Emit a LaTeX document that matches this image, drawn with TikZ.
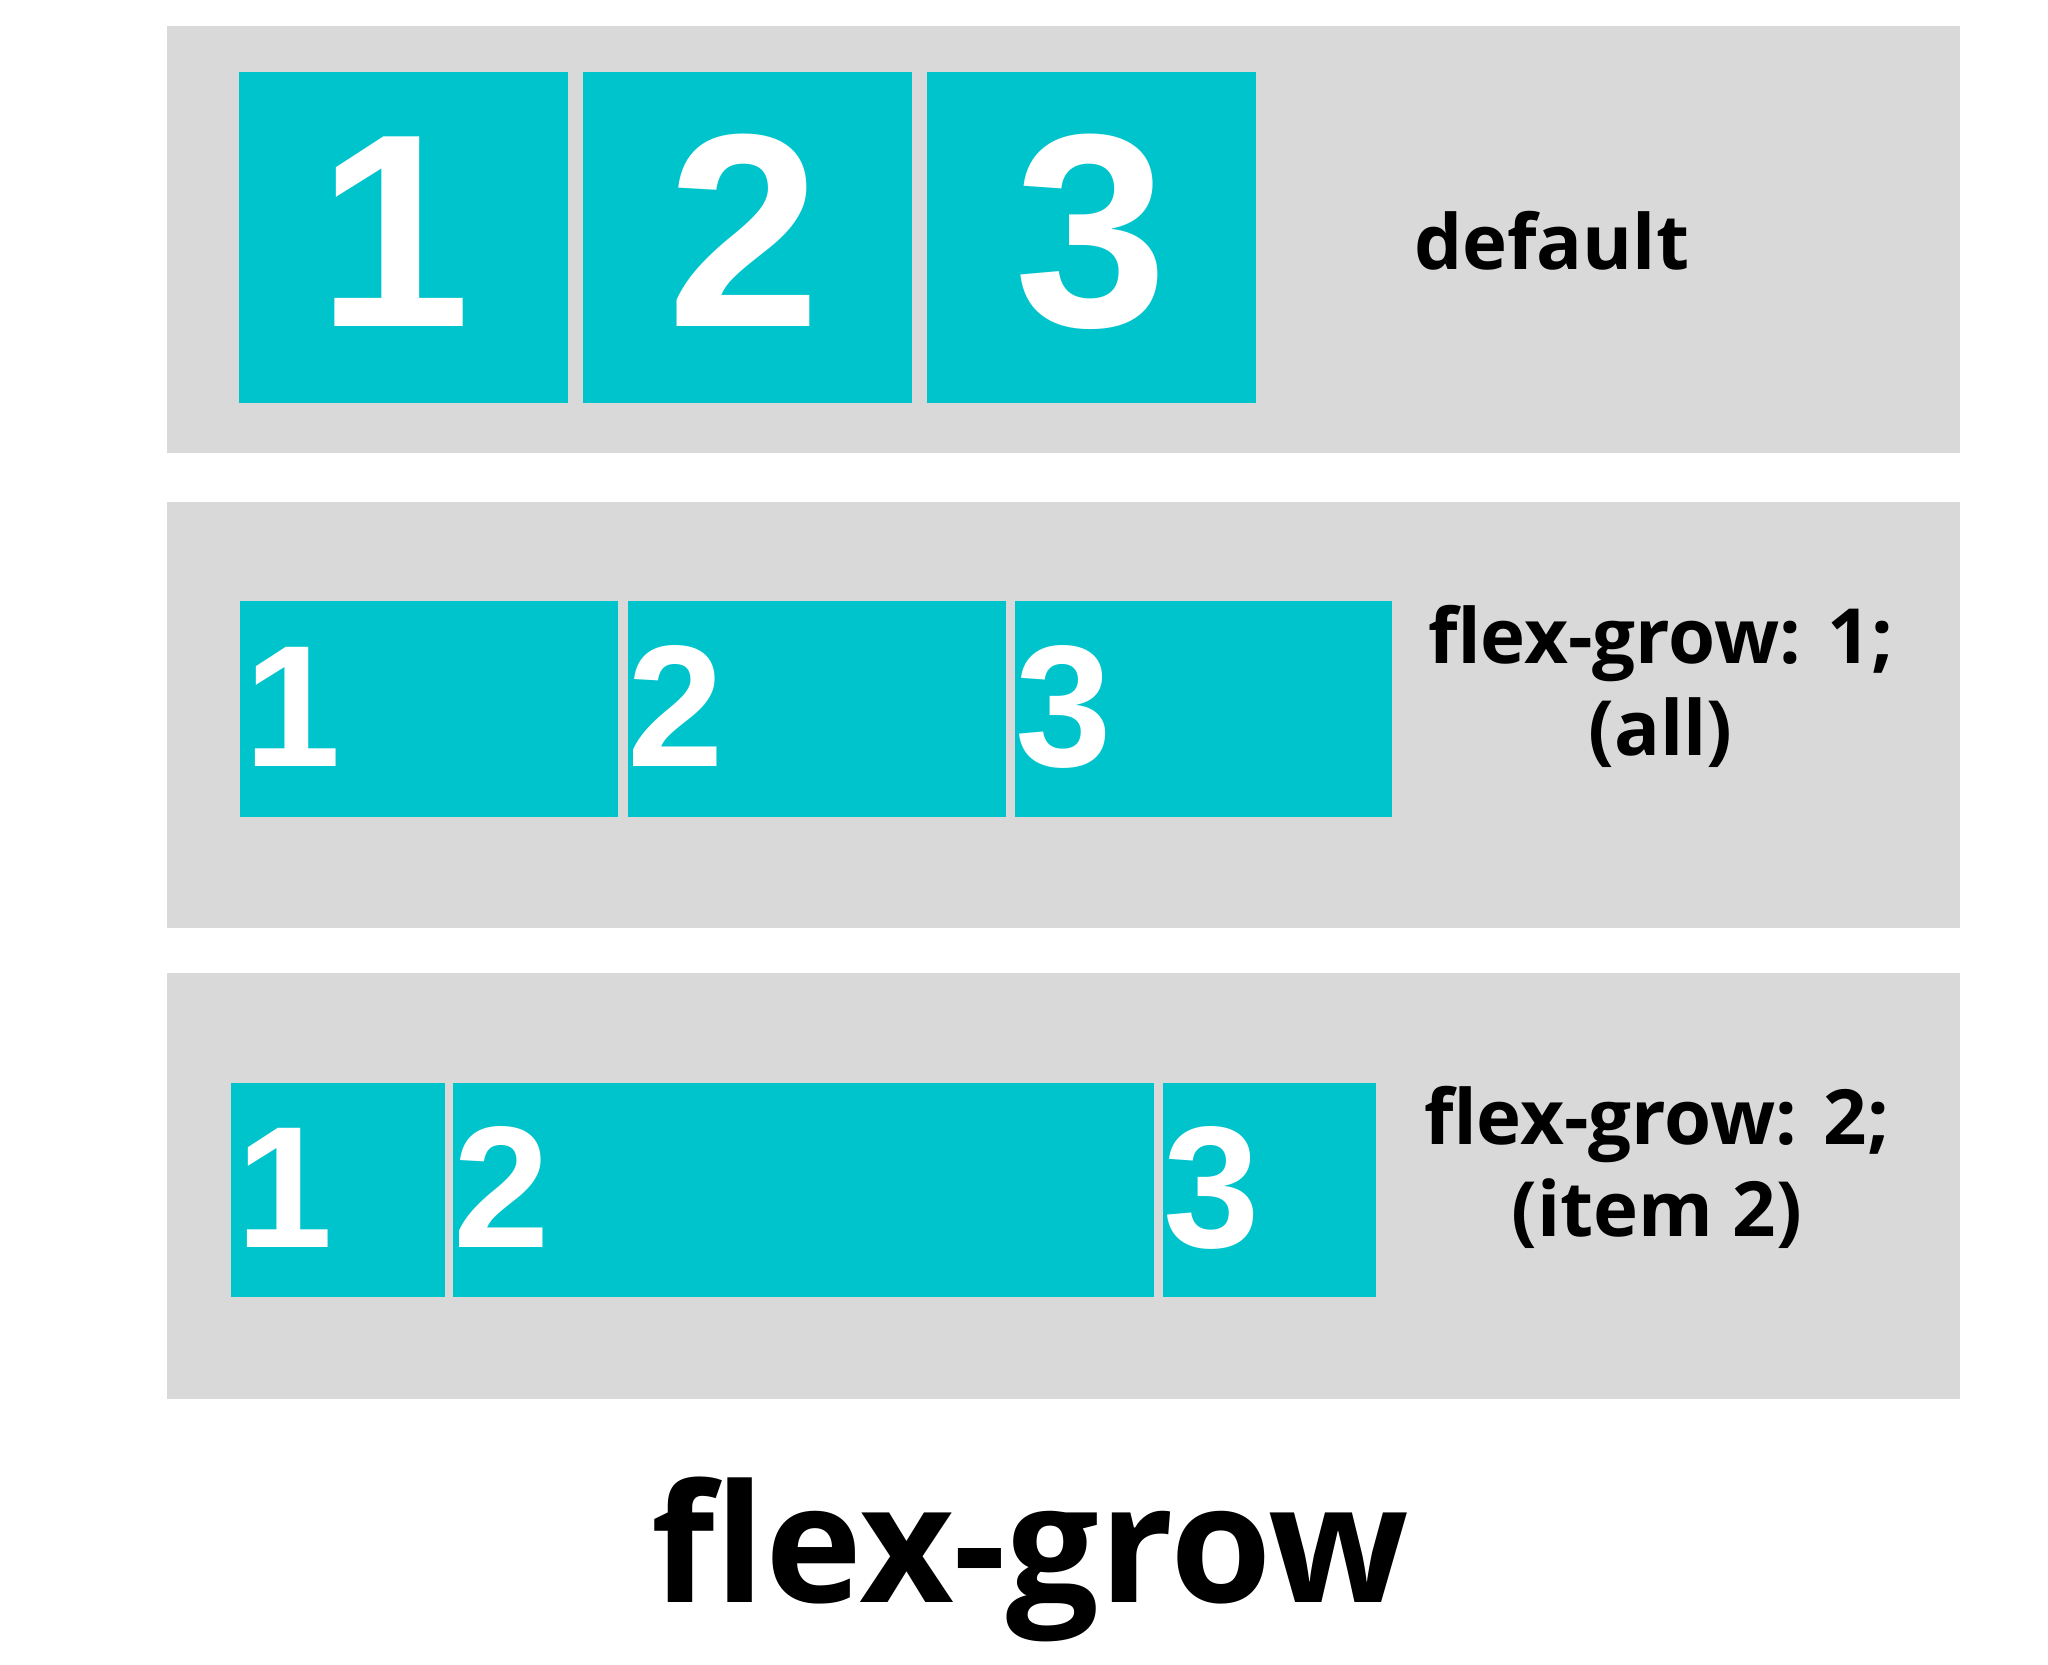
\documentclass[tikz,border=0pt]{standalone}
\usepackage{fontspec}
\setmainfont{Open Sans}
\newfontfamily\numfont{Liberation Sans}
\definecolor{teal}{HTML}{00C4CC}
\definecolor{panel}{HTML}{D9D9D9}
\begin{document}
\begin{tikzpicture}[x=1pt,y=-1pt,
  panelbox/.style={fill=panel},
  item/.style={fill=teal},
  bignum/.style={text=white,font=\numfont\bfseries\fontsize{210}{210}\selectfont,inner sep=0},
  midnum/.style={text=white,font=\numfont\bfseries\fontsize{132}{132}\selectfont,inner sep=0,anchor=base west},
  lbl/.style={font=\bfseries\fontsize{58}{70}\selectfont,align=center}]
\useasboundingbox (0,0) rectangle (1560,1268);
\fill[white] (0,0) rectangle (1560,1268);
% panel 1
\fill[panelbox] (127,20) rectangle (1493,345);
\fill[item] (182,55) rectangle (433,307);
\fill[item] (444,55) rectangle (695,307);
\fill[item] (706,55) rectangle (957,307);
\node[bignum,anchor=base] (a1) at (300,249) {1};
\node[bignum,anchor=base] (a2) at (567,249) {2};
\node[bignum,anchor=base] (a3) at (831,249) {3};
\node[lbl] (l1) at (1182,183) {default};
% panel 2
\fill[panelbox] (127,382) rectangle (1493,707);
\fill[item] (183,458) rectangle (471,622);
\fill[item] (478,458) rectangle (766,622);
\fill[item] (773,458) rectangle (1060,622);
\node[midnum] (b1) at (186,584) {1};
\node[midnum] (b2) at (478,584) {2};
\node[midnum] (b3) at (773,584) {3};
\node[lbl] (l2) at (1265,523) {flex-grow: 1;\\(all)};
% panel 3
\fill[panelbox] (127,741) rectangle (1493,1066);
\fill[item] (176,825) rectangle (339,988);
\fill[item] (345,825) rectangle (879,988);
\fill[item] (886,825) rectangle (1048,988);
\node[midnum] (c1) at (180,950) {1};
\node[midnum] (c2) at (345,950) {2};
\node[midnum] (c3) at (886,950) {3};
\node[lbl] (l3) at (1262,889) {flex-grow: 2;\\(item 2)};
% title
\node[font=\bfseries\fontsize{125}{125}\selectfont,anchor=base] (t) at (785,1221) {flex-grow};
\end{tikzpicture}
\end{document}
